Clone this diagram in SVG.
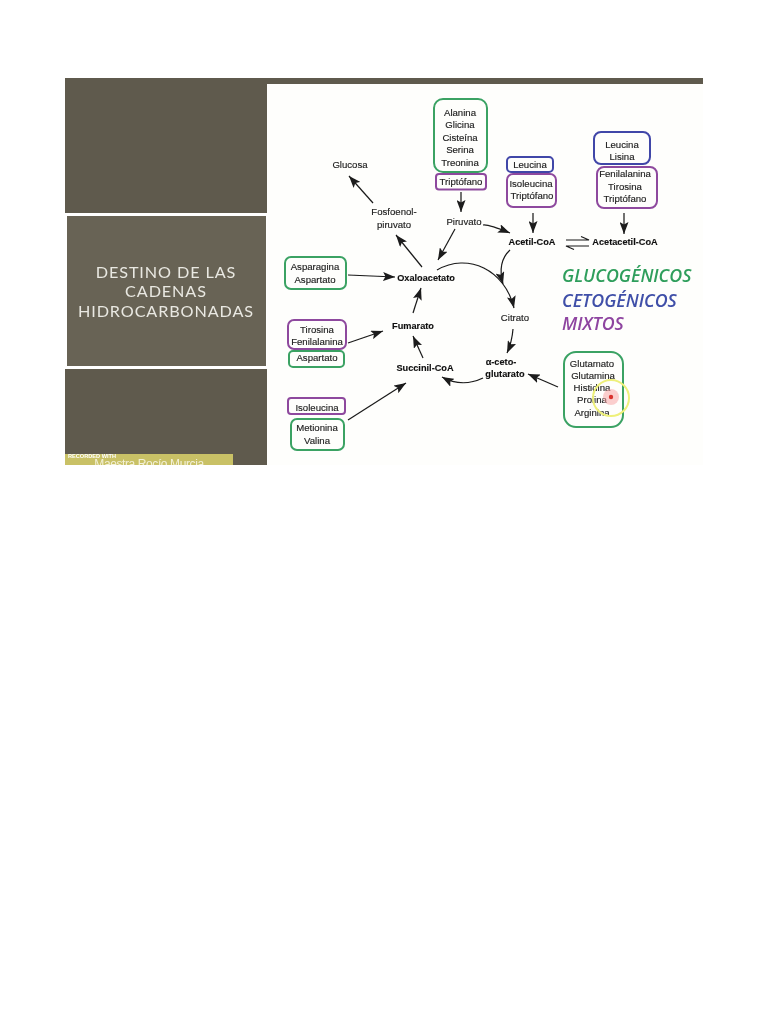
<svg xmlns="http://www.w3.org/2000/svg" width="768" height="1024" viewBox="0 0 768 1024">
<style>
text{font-family:"Liberation Sans",Arial,sans-serif;fill:#1c1c1c;stroke:#1c1c1c;stroke-width:.15;font-size:9.6px;text-anchor:middle}
.b{font-weight:bold;font-size:9.2px;fill:#111}
.box{fill:none;stroke-width:2}
.g{stroke:#3aa264}.p{stroke:#8e4a9e}.u{stroke:#4146a8}
.c{fill:none;stroke:#1a1a1a;stroke-width:1.2}
.t{font-family:Lato,"Liberation Sans",sans-serif;fill:#e9e8e2;stroke:none;font-size:16.2px;letter-spacing:.9px}
.k{font-family:"Open Sans","Liberation Sans",sans-serif;font-style:italic;font-weight:600;font-size:17.8px;text-anchor:start;stroke:none}
</style>
<defs>
<marker id="a" markerWidth="13" markerHeight="9" refX="12" refY="4.500" orient="auto" markerUnits="userSpaceOnUse"><path d="M0 0L12 4.500L0 9L2.500 4.500Z" fill="#1a1a1a"/></marker>
<filter id="s" x="-2%" y="-2%" width="104%" height="104%"><feGaussianBlur stdDeviation="0.35"/></filter>
<clipPath id="cl"><rect x="65" y="369" width="202" height="96"/></clipPath>
</defs>
<rect width="768" height="1024" fill="#fff"/>
<rect x="267" y="84" width="436" height="381" fill="#fefefc"/>
<g filter="url(#s)">
<g id="panel">
<rect x="65" y="78" width="638" height="6" fill="#5f5a4d"/>
<rect x="65" y="78" width="202" height="135" fill="#5f5a4d"/>
<rect x="67" y="216" width="199" height="150" fill="#686354"/>
<rect x="65" y="369" width="202" height="96" fill="#5f5a4d"/>
<text class="t" x="166" y="278">DESTINO DE LAS</text>
<text class="t" x="166" y="297">CADENAS</text>
<text class="t" x="166" y="317">HIDROCARBONADAS</text>
<g clip-path="url(#cl)">
<rect x="65" y="454" width="168" height="11" fill="#c9c166"/>
<text x="149" y="468" style="font-size:12px;fill:#f3f1d8;stroke:none;letter-spacing:-.4px">Maestra Rocío Murcia</text>
<text x="92" y="458" style="font-size:5.600px;font-weight:bold;fill:#fff;stroke:none">RECORDED WITH</text>
</g>
</g>
<g id="connectors">
<path class="c" marker-end="url(#a)" d="M373 203L349 176"/>
<path class="c" marker-end="url(#a)" d="M422 267L396 235"/>
<path class="c" marker-end="url(#a)" d="M461 192V212"/>
<path class="c" marker-end="url(#a)" d="M455 229L438 260"/>
<path class="c" marker-end="url(#a)" d="M483 225Q488 224 510 233"/>
<path class="c" marker-end="url(#a)" d="M533 213V233"/>
<path class="c" marker-end="url(#a)" d="M624 213V234"/>
<path class="c" d="M566 240H589L581 236.500M589 246H566L574 249.500"/>
<path class="c" marker-end="url(#a)" d="M510 250Q497 262 503 284"/>
<path class="c" marker-end="url(#a)" d="M437 270C468 252 505 270 514 308"/>
<path class="c" marker-end="url(#a)" d="M513 329Q512 342 507 353"/>
<path class="c" marker-end="url(#a)" d="M558 387L528 374"/>
<path class="c" marker-end="url(#a)" d="M483 378Q462 388 442 377"/>
<path class="c" marker-end="url(#a)" d="M423 358L413 336"/>
<path class="c" marker-end="url(#a)" d="M413 313L421 288"/>
<path class="c" marker-end="url(#a)" d="M348 275L395 277"/>
<path class="c" marker-end="url(#a)" d="M348 343L383 331"/>
<path class="c" marker-end="url(#a)" d="M348 420L406 383"/>
</g>
<g id="n-glucosa"><text x="350" y="168">Glucosa</text></g>
<g id="n-fosfoenol"><text x="394" y="215">Fosfoenol-</text><text x="394" y="228">piruvato</text></g>
<g id="n-piruvato"><text x="464" y="225">Piruvato</text></g>
<g id="n-oxaloacetato"><text class="b" x="426" y="281">Oxaloacetato</text></g>
<g id="n-fumarato"><text class="b" x="413" y="329">Fumarato</text></g>
<g id="n-succinil"><text class="b" x="425" y="371">Succinil-CoA</text></g>
<g id="n-oxo"><text class="b" x="501" y="365">α-ceto-</text><text class="b" x="505" y="377">glutarato</text></g>
<g id="n-citrato"><text x="515" y="321">Citrato</text></g>
<g id="n-acetil"><text class="b" x="532" y="245">Acetil-CoA</text></g>
<g id="n-acetacetil"><text class="b" x="625" y="245">Acetacetil-CoA</text></g>
<g id="b-alanina"><rect class="box g" x="434" y="99" width="53" height="73" rx="9"/>
<text x="460" y="116">Alanina</text><text x="460" y="128">Glicina</text><text x="460" y="141">Cisteína</text><text x="460" y="153">Serina</text><text x="460" y="166">Treonina</text></g>
<g id="b-triptofano"><rect class="box p" x="436" y="174" width="50" height="15.500" rx="3"/><text x="461" y="185">Triptófano</text></g>
<g id="b-asparagina"><rect class="box g" x="285" y="257" width="61" height="32" rx="6"/><text x="315" y="270">Asparagina</text><text x="315" y="283">Aspartato</text></g>
<g id="b-tirosina"><rect class="box p" x="288" y="320" width="58" height="29" rx="6"/><text x="317" y="333">Tirosina</text><text x="317" y="345">Fenilalanina</text></g>
<g id="b-aspartato"><rect class="box g" x="289" y="351" width="55" height="16" rx="4"/><text x="317" y="361">Aspartato</text></g>
<g id="b-isoleucina"><rect class="box p" x="288" y="398" width="57" height="16" rx="3"/><text x="317" y="411">Isoleucina</text></g>
<g id="b-metionina"><rect class="box g" x="291" y="419" width="53" height="31" rx="6"/><text x="317" y="431">Metionina</text><text x="317" y="444">Valina</text></g>
<g id="b-leucina"><rect class="box u" x="507" y="157" width="46" height="15" rx="4"/><text x="530" y="168">Leucina</text></g>
<g id="b-isotrip"><rect class="box p" x="507" y="174" width="49" height="33" rx="6"/><text x="531" y="187">Isoleucina</text><text x="532" y="199">Triptófano</text></g>
<g id="b-leulis"><rect class="box u" x="594" y="132" width="56" height="32" rx="7"/><text x="622" y="148">Leucina</text><text x="622" y="160">Lisina</text></g>
<g id="b-fenil"><rect class="box p" x="597" y="167" width="60" height="41" rx="7"/><text x="625" y="177">Fenilalanina</text><text x="625" y="190">Tirosina</text><text x="625" y="202">Triptófano</text></g>
<g id="b-glutamato"><rect class="box g" x="564" y="352" width="59" height="75" rx="12"/>
<text x="592" y="367">Glutamato</text><text x="593" y="379">Glutamina</text><text x="592" y="391">Histidina</text><text x="592" y="403">Prolina</text><text x="592" y="416">Arginina</text></g>
<g id="pointer"><circle cx="611" cy="397" r="8" fill="#f7a6a6" opacity=".55"/><circle cx="611" cy="397" r="2.200" fill="#d9332f"/><circle cx="611" cy="398" r="18" fill="none" stroke="#eef07a" stroke-width="2"/></g>
<g id="legend">
<text class="k" x="562" y="282" style="fill:#2f9e5b">GLUCOGÉNICOS</text>
<text class="k" x="562" y="307" style="fill:#3f4fa8">CETOGÉNICOS</text>
<text class="k" x="562" y="330" style="fill:#8e44a0">MIXTOS</text>
</g>
</g>
</svg>
